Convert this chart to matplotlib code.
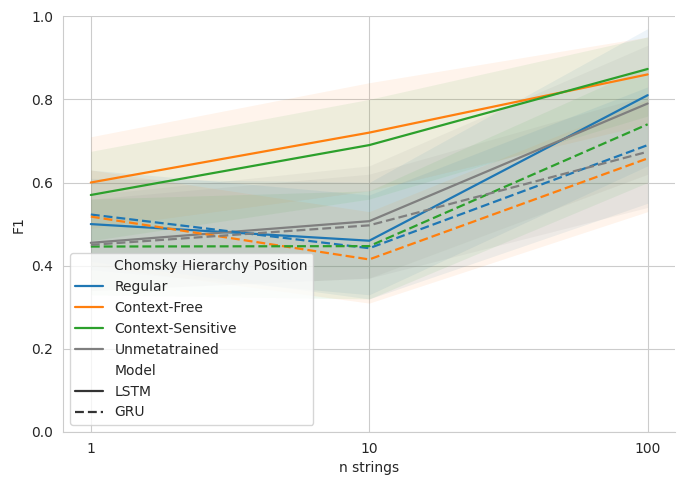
import numpy as np
import matplotlib
matplotlib.use("Agg")
import matplotlib.pyplot as plt
import seaborn as sns
from matplotlib.lines import Line2D

sns.set_style("whitegrid")

# x values
n_strings = [1, 10, 100]

# mean F1 per (hierarchy position, model)
regular_lstm = [0.50, 0.46, 0.81]
cf_lstm = [0.60, 0.72, 0.86]
cs_lstm = [0.57, 0.69, 0.873]
unmeta_lstm = [0.455, 0.507, 0.79]
regular_gru = [0.523, 0.442, 0.69]
cf_gru = [0.518, 0.415, 0.658]
cs_gru = [0.446, 0.447, 0.74]
unmeta_gru = [0.45, 0.497, 0.674]

# error band limits
regular_lstm_lo, regular_lstm_hi = [0.39, 0.33, 0.64], [0.61, 0.60, 0.97]
cf_lstm_lo, cf_lstm_hi = [0.49, 0.58, 0.74], [0.71, 0.84, 0.95]
cs_lstm_lo, cs_lstm_hi = [0.46, 0.56, 0.76], [0.675, 0.80, 0.95]
unmeta_lstm_lo, unmeta_lstm_hi = [0.34, 0.37, 0.62], [0.57, 0.64, 0.93]
regular_gru_lo, regular_gru_hi = [0.41, 0.32, 0.55], [0.63, 0.57, 0.83]
cf_gru_lo, cf_gru_hi = [0.40, 0.31, 0.53], [0.63, 0.53, 0.80]
cs_gru_lo, cs_gru_hi = [0.33, 0.32, 0.60], [0.56, 0.58, 0.88]
unmeta_gru_lo, unmeta_gru_hi = [0.34, 0.37, 0.54], [0.56, 0.62, 0.81]

positions = ["Regular", "Context-Free", "Context-Sensitive", "Unmetatrained"]
models = ["LSTM", "GRU"]
colors = ["#1f77b4", "#ff7f0e", "#2ca02c", "#7f7f7f"]
dashes = {"LSTM": "-", "GRU": (0, (4, 1.8))}

series = {
    ("Regular", "LSTM"): (regular_lstm, regular_lstm_lo, regular_lstm_hi),
    ("Context-Free", "LSTM"): (cf_lstm, cf_lstm_lo, cf_lstm_hi),
    ("Context-Sensitive", "LSTM"): (cs_lstm, cs_lstm_lo, cs_lstm_hi),
    ("Unmetatrained", "LSTM"): (unmeta_lstm, unmeta_lstm_lo, unmeta_lstm_hi),
    ("Regular", "GRU"): (regular_gru, regular_gru_lo, regular_gru_hi),
    ("Context-Free", "GRU"): (cf_gru, cf_gru_lo, cf_gru_hi),
    ("Context-Sensitive", "GRU"): (cs_gru, cs_gru_lo, cs_gru_hi),
    ("Unmetatrained", "GRU"): (unmeta_gru, unmeta_gru_lo, unmeta_gru_hi),
}

fig = plt.figure(figsize=(6.89, 4.88), dpi=100)
ax = fig.add_axes([0.0914, 0.1148, 0.889, 0.852])

for model in models:
    for pos, col in zip(positions, colors):
        mean, lo, hi = series[(pos, model)]
        ax.fill_between(n_strings, lo, hi, color=col, alpha=0.08, linewidth=0)
        ax.plot(n_strings, mean, color=col, linestyle=dashes[model], linewidth=1.6)

ax.set_xscale("log")
ax.set_xticks(n_strings)
ax.set_xticklabels(["1", "10", "100"])
ax.minorticks_off()
ax.set_ylim(0, 1.0)
ax.set_xlabel("n strings")
ax.set_ylabel("F1")
sns.despine(ax=ax)

# seaborn-like legend with sub-titles
blank = Line2D([], [], color="none")
handles = [blank]
labels = ["Chomsky Hierarchy Position"]
for pos, col in zip(positions, colors):
    handles.append(Line2D([], [], color=col, linewidth=1.6))
    labels.append(pos)
handles.append(blank)
labels.append("Model")
for model in models:
    handles.append(Line2D([], [], color=".2", linewidth=1.6, linestyle=dashes[model]))
    labels.append(model)
ax.legend(handles, labels, loc="lower left")

fig.savefig("out.png", dpi=100)
